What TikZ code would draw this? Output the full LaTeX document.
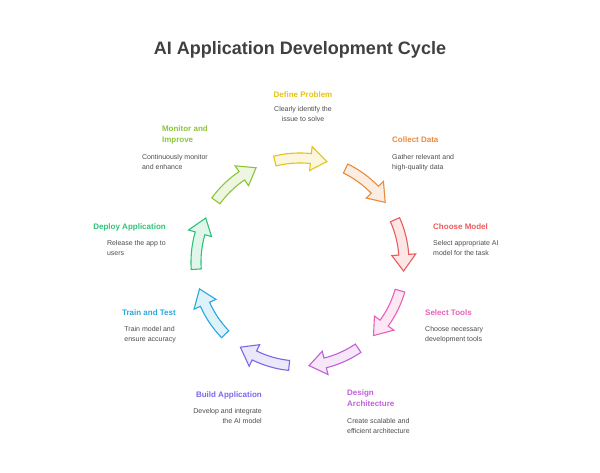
\documentclass[tikz,border=0pt]{standalone}
\usepackage{fontspec}
\setmainfont{Liberation Sans}
\usepackage{xcolor}
\usetikzlibrary{calc}
\definecolor{cdefine}{HTML}{E2C21C}
\definecolor{ccollect}{HTML}{EC8A3C}
\definecolor{cchoose}{HTML}{EC5A5A}
\definecolor{cselect}{HTML}{E860B8}
\definecolor{cdesign}{HTML}{C060D8}
\definecolor{cbuild}{HTML}{7C66E8}
\definecolor{ctrain}{HTML}{28A8DC}
\definecolor{cdeploy}{HTML}{2EC27A}
\definecolor{cmonitor}{HTML}{8CC43A}
\tikzstyle{stage} = [inner sep=0pt, font=\bfseries\fontsize{8}{10.5}\selectfont]
\tikzstyle{desc} = [inner sep=0pt, text=black!70, font=\fontsize{7}{10.5}\selectfont]
\begin{document}
\begin{tikzpicture}[x=1pt,y=1pt]
    \useasboundingbox (0,0) rectangle (600,473);
    \node[font=\bfseries\fontsize{18}{21}\selectfont, text=black!75] (title) at (300,423) {AI Application Development Cycle};
    \coordinate (c) at (300,211);
    % curved block arrows, clockwise
    \foreach \ang/\col in {90/cdefine,50/ccollect,10/cchoose,-30/cselect,-70/cdesign,-110/cbuild,-150/ctrain,170/cdeploy,130/cmonitor}{
      \pgfmathsetmacro{\sa}{\ang+14}
      \pgfmathsetmacro{\ha}{\ang-6}
      \pgfmathsetmacro{\ta}{\ang-15}
      \draw[\col, line width=1.1pt, fill=\col!15, line join=miter]
        ($(c)+(\sa:109)$) arc[start angle=\sa, end angle=\ha, radius=109]
        -- ($(c)+(\ha:116)$) -- ($(c)+(\ta:104)$) -- ($(c)+(\ha:92)$) -- ($(c)+(\ha:99)$)
        arc[start angle=\ha, end angle=\sa, radius=99] -- cycle;
    }
    \node[stage, text=cdefine] (define) at (303,378) {Define Problem};
    \node[desc, align=center, anchor=north] (definetxt) at (303,367) {Clearly identify the\\issue to solve};
    \node[stage, text=ccollect, anchor=west] (collect) at (392,333) {Collect Data};
    \node[desc, align=left, anchor=north west] (collecttxt) at (392,319) {Gather relevant and\\high-quality data};
    \node[stage, text=cchoose, anchor=west] (choose) at (433,246) {Choose Model};
    \node[desc, align=left, anchor=north west] (choosetxt) at (433,233) {Select appropriate AI\\model for the task};
    \node[stage, text=cselect, anchor=west] (select) at (425,160) {Select Tools};
    \node[desc, align=left, anchor=north west] (selecttxt) at (425,147) {Choose necessary\\development tools};
    \node[stage, text=cdesign, align=left, anchor=north west] (design) at (347,83) {Design\\Architecture};
    \node[desc, align=left, anchor=north west] (designtxt) at (347,55) {Create scalable and\\efficient architecture};
    \node[stage, text=cbuild, anchor=east] (build) at (262,78) {Build Application};
    \node[desc, align=right, anchor=north east] (buildtxt) at (262,65) {Develop and integrate\\the AI model};
    \node[stage, text=ctrain, anchor=east] (train) at (176,160) {Train and Test};
    \node[desc, align=left, anchor=north east] (traintxt) at (176,147) {Train model and\\ensure accuracy};
    \node[stage, text=cdeploy, anchor=east] (deploy) at (166,246) {Deploy Application};
    \node[desc, align=left, anchor=north east] (deploytxt) at (166,233) {Release the app to\\users};
    \node[stage, text=cmonitor, align=left, anchor=north east] (monitor) at (208,347) {Monitor and\\Improve};
    \node[desc, align=left, anchor=north east] (monitortxt) at (208,319) {Continuously monitor\\and enhance};
\end{tikzpicture}
\end{document}
